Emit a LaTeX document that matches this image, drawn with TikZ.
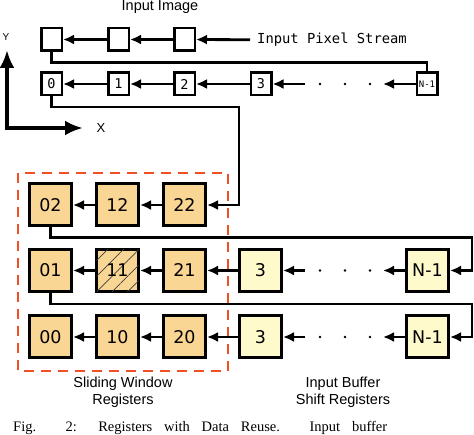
\documentclass[tikz,border=0pt]{standalone}
\usepackage{fontspec}
\setmainfont{Liberation Serif}
\newfontfamily\regfont{DejaVu Sans}
\newfontfamily\pixfont{DejaVu Sans Mono}
\newfontfamily\labfont{Liberation Sans}
\usetikzlibrary{arrows.meta,patterns.meta}
\definecolor{winfill}{RGB}{250,214,148}
\definecolor{buffill}{RGB}{255,250,204}
\definecolor{winred}{RGB}{240,80,36}
\tikzset{
  pixbox/.style={draw, line width=2.5pt, minimum width=20.5pt, minimum height=22.5pt, inner sep=0pt, fill=white,
                 font=\pixfont\fontsize{13.5}{14}\selectfont},
  regbox/.style={draw, line width=3pt, minimum size=42pt, inner sep=0pt,
                 font=\regfont\fontsize{17.5}{20}\selectfont},
  shiftarrow/.style={->, line width=2.8pt},
  dot/.style={circle, fill, inner sep=0.9pt},
  lab/.style={align=center, font=\labfont\fontsize{14.5}{17}\selectfont}
}
\begin{document}
\begin{tikzpicture}[x=1pt, y=-1pt, >={Latex[length=11pt,width=10pt]}]
 \useasboundingbox (0,0) rectangle (474,435);
 \clip (0,0) rectangle (474,435);
 \node (img) [lab] at (160,7) {Input Image};
 % axes
 \coordinate (ytip) at (7,50);
 \coordinate (orig) at (7,128);
 \coordinate (xtip) at (83,128);
 \draw[line width=4.5pt, {Latex[length=18pt,width=15pt]}-{Latex[length=18pt,width=15pt]}] (ytip) -- (orig) -- (xtip);
 \node (ylab) [font=\labfont\fontsize{10}{12}\selectfont] at (6,37) {Y};
 \node (xlab) [font=\labfont\fontsize{13}{14}\selectfont] at (101,128) {X};
 % input image rows
 \begin{scope}[every node/.style={pixbox}]
   \node (a0) at (51.5,39.5) {};
   \node (a1) at (118.5,39.5) {};
   \node (a2) at (184.5,39.5) {};
   \node (p0) at (51.5,84) {0};
   \node (p1) at (118.5,84) {1};
   \node (p2) at (184.5,84) {2};
   \node (p3) at (261,84) {3};
   \node (pN) [font=\pixfont\fontsize{9}{10}\selectfont] at (427,84) {N-1};
 \end{scope}
 \node (stream) [anchor=west, inner xsep=7pt, inner ysep=0pt, font=\pixfont\fontsize{13.8}{15}\selectfont] at (250,40) {Input Pixel Stream};
 \draw[shiftarrow] (stream) -- (a2);
 \draw[shiftarrow] (a2) -- (a1);
 \draw[shiftarrow] (a1) -- (a0);
 \draw[line width=2.8pt] (a0.south) -- ++(0,10.5) -| (pN.north);
 \coordinate (pdR) at (383,84);
 \coordinate (pdL) at (305,84);
 \draw[shiftarrow] (pN) -- (pdR);
 \draw[shiftarrow] (pdL) -- (p3);
 \draw[shiftarrow] (p3) -- (p2);
 \draw[shiftarrow] (p2) -- (p1);
 \draw[shiftarrow] (p1) -- (p0);
 \foreach \x in {320,345,370} \node[dot] at (\x,84) {};
 % sliding window + input buffer
 \draw[winred, line width=2.8pt, dash pattern=on 10pt off 7pt] (18,173) rectangle (228,371);
 \begin{scope}[every node/.style={regbox, fill=winfill}]
   \node (w02) at (50.5,205) {02};
   \node (w12) at (117.5,205) {12};
   \node (w22) at (184.5,205) {22};
   \node (w01) at (50.5,270.5) {01};
   \node (w11) [postaction={pattern={Lines[angle=45,distance=11pt,line width=0.7pt]}, pattern color=black!75}] at (117.5,270.5) {11};
   \node (w21) at (184.5,270.5) {21};
   \node (w00) at (50.5,337) {00};
   \node (w10) at (117.5,337) {10};
   \node (w20) at (184.5,337) {20};
 \end{scope}
 \begin{scope}[every node/.style={regbox, fill=buffill}]
   \node (b31) at (260.5,270.5) {3};
   \node (bN1) at (427.5,270.5) {N-1};
   \node (b30) at (260.5,337) {3};
   \node (bN0) at (427.5,337) {N-1};
 \end{scope}
 \coordinate (turn) at (239,205);
 \draw[shiftarrow] (p0.south) -- ++(0,10.5) -| (turn) -- (w22);
 \draw[shiftarrow] (w22) -- (w12);
 \draw[shiftarrow] (w12) -- (w02);
 \draw[shiftarrow] (w02.south) -- ++(0,10) -| (472,270.5) -- (bN1);
 \draw[shiftarrow] (w01.south) -- ++(0,11) -| (472,337) -- (bN0);
 \foreach \r/\y in {1/270.5,0/337} {
   \coordinate (dR\r) at (383,\y);
   \coordinate (dL\r) at (305,\y);
   \draw[shiftarrow] (bN\r) -- (dR\r);
   \draw[shiftarrow] (dL\r) -- (b3\r);
   \draw[shiftarrow] (b3\r) -- (w2\r);
   \draw[shiftarrow] (w2\r) -- (w1\r);
   \draw[shiftarrow] (w1\r) -- (w0\r);
   \foreach \x in {320,345,370} \node[dot] at (\x,\y) {};
 }
 \node (swr) [lab] at (123,392) {Sliding Window\\Registers};
 \node (ibr) [lab] at (343,392) {Input Buffer\\Shift Registers};
 \node (cap) [anchor=base west, inner sep=0pt, font=\fontsize{14.5}{16}\selectfont] at (13,431.5)
   {\makebox[374pt][s]{Fig. 2: Registers with Data Reuse. Input buffer}};
\end{tikzpicture}
\end{document}
